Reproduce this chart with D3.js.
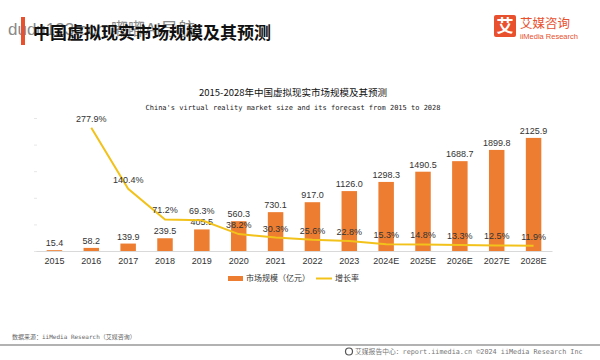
<!DOCTYPE html>
<html>
<head>
<meta charset="utf-8">
<script src="https://cdn.jsdelivr.net/npm/d3@7"></script>
<style>
html,body{margin:0;padding:0;background:#fff;}
svg{display:block;}
</style>
</head>
<body>
<svg id="chart" width="600" height="360"></svg>
<script>
const categories = ["2015","2016","2017","2018","2019","2020","2021","2022","2023","2024E","2025E","2026E","2027E","2028E"];
const marketSize = [15.4,58.2,139.9,239.5,405.5,560.3,730.1,917.0,1126.0,1298.3,1490.5,1688.7,1899.8,2125.9];
const growthRate = [null,277.9,140.4,71.2,69.3,38.2,30.3,25.6,22.8,15.3,14.8,13.3,12.5,11.9];
const leftTicks = [0,500,1000,1500,2000,2500];
const legendLabels = ["市场规模（亿元）","增长率"];

const FONT = "'Liberation Sans','Noto Sans CJK SC',Arial,sans-serif";
const CJK = "'Noto Sans CJK SC','Liberation Sans',sans-serif";
const MONO = "'DejaVu Sans Mono','Liberation Mono','Noto Sans CJK SC',monospace";
const ORANGE = "#ed7d31", YELLOW = "#f2c21b";

const svg = d3.select("#chart");

// ----- header -----
svg.append("text").attr("x",8).attr("y",35).attr("font-family",FONT).attr("font-size",17)
  .attr("fill","#8a8a8a").text("dudu123.com嘟嘟AI导航");
svg.append("rect").attr("x",21).attr("y",17).attr("width",4).attr("height",28).attr("fill","#e8502e");
svg.append("text").attr("x",33).attr("y",39).attr("font-family",CJK).attr("font-size",17)
  .attr("font-weight","bold").attr("fill","#111").text("中国虚拟现实市场规模及其预测");

// logo
svg.append("rect").attr("x",494).attr("y",15).attr("width",22).attr("height",22).attr("rx",2).attr("fill","#e8502e");
svg.append("text").attr("x",505).attr("y",32).attr("text-anchor","middle").attr("font-family",CJK)
  .attr("font-size",17).attr("font-weight","bold").attr("fill","#fff").text("艾");
svg.append("text").attr("x",520).attr("y",27.5).attr("font-family",CJK).attr("font-size",12.5)
  .attr("fill","#e8502e").text("艾媒咨询");
svg.append("text").attr("x",520).attr("y",38.5).attr("font-family",FONT).attr("font-size",7.5)
  .attr("fill","#e8502e").text("iiMedia Research");

// ----- chart titles -----
svg.append("text").attr("x",293).attr("y",96).attr("text-anchor","middle").attr("font-family",CJK)
  .attr("font-size",9.5).attr("fill","#111").text("2015-2028年中国虚拟现实市场规模及其预测");
svg.append("text").attr("x",293).attr("y",110).attr("text-anchor","middle")
  .attr("font-family",MONO)
  .attr("font-size",7).attr("fill","#222").text("China's virtual reality market size and its forecast from 2015 to 2028");

// ----- scales -----
const x = d3.scaleBand().domain(categories).range([36,552]).paddingInner(0.58).paddingOuter(0.29);
const y = d3.scaleLinear().domain([0,2500]).range([251,118]);
const y2 = d3.scaleLinear().domain([0,300]).range([251,118]);

// faint left axis ticks
const yAxis = d3.axisLeft(y).tickValues(leftTicks).tickSize(3).tickFormat("");
const gy = svg.append("g").attr("transform","translate(37,0)").call(yAxis);
gy.select(".domain").remove();
gy.selectAll(".tick line").attr("stroke","#e6e6e6");

// x axis
const xAxis = d3.axisBottom(x).tickSize(0).tickPadding(7);
const gx = svg.append("g").attr("transform","translate(0,251)").call(xAxis);
gx.select(".domain").attr("stroke","#d9d9d9").attr("stroke-width",1);
gx.selectAll("text").attr("font-family",FONT).attr("font-size",9).attr("fill","#333");

// bars
svg.append("g").selectAll("rect").data(marketSize).join("rect")
  .attr("x",(d,i)=>x(categories[i]))
  .attr("y",d=>y(d))
  .attr("width",x.bandwidth())
  .attr("height",d=>y(0)-y(d))
  .attr("fill",ORANGE);

svg.append("g").selectAll("text").data(marketSize).join("text")
  .attr("x",(d,i)=>x(categories[i])+x.bandwidth()/2)
  .attr("y",d=>y(d)-4)
  .attr("text-anchor","middle").attr("font-family",FONT).attr("font-size",9).attr("fill","#333")
  .text(d=>d.toFixed(1));

// growth line
const pts = growthRate.map((v,i)=>({c:categories[i],v})).filter(d=>d.v!==null);
const line = d3.line().x(d=>x(d.c)+x.bandwidth()/2).y(d=>y2(d.v));
svg.append("path").datum(pts).attr("d",line).attr("fill","none")
  .attr("stroke",YELLOW).attr("stroke-width",2);

svg.append("g").selectAll("text").data(pts).join("text")
  .attr("x",d=>x(d.c)+x.bandwidth()/2)
  .attr("y",d=>y2(d.v)-6)
  .attr("text-anchor","middle").attr("font-family",FONT).attr("font-size",9).attr("fill","#333")
  .text(d=>d.v.toFixed(1)+"%");

// legend
const lg = svg.append("g");
lg.append("rect").attr("x",228).attr("y",276).attr("width",15).attr("height",5).attr("fill",ORANGE);
lg.append("text").attr("x",246).attr("y",281).attr("font-family",CJK).attr("font-size",8).attr("fill","#333").text(legendLabels[0]);
lg.append("line").attr("x1",316).attr("x2",332).attr("y1",278.5).attr("y2",278.5).attr("stroke",YELLOW).attr("stroke-width",2);
lg.append("text").attr("x",335).attr("y",281).attr("font-family",CJK).attr("font-size",8).attr("fill","#333").text(legendLabels[1]);

// footer
svg.append("text").attr("x",12).attr("y",339).attr("font-family",MONO).attr("font-size",6).attr("fill","#666")
  .text("数据来源：iiMedia Research（艾媒咨询）");
svg.append("line").attr("x1",0).attr("x2",600).attr("y1",345).attr("y2",345).attr("stroke","#999").attr("stroke-width",1.5);
svg.append("circle").attr("cx",349).attr("cy",351.5).attr("r",3.5).attr("fill","none").attr("stroke","#555").attr("stroke-width",1.2);
svg.append("text").attr("x",355).attr("y",354).attr("font-family",MONO).attr("font-size",6.8).attr("fill","#777")
  .text("艾媒报告中心：report.iimedia.cn  ©2024  iiMedia Research  Inc");
</script>
</body>
</html>
